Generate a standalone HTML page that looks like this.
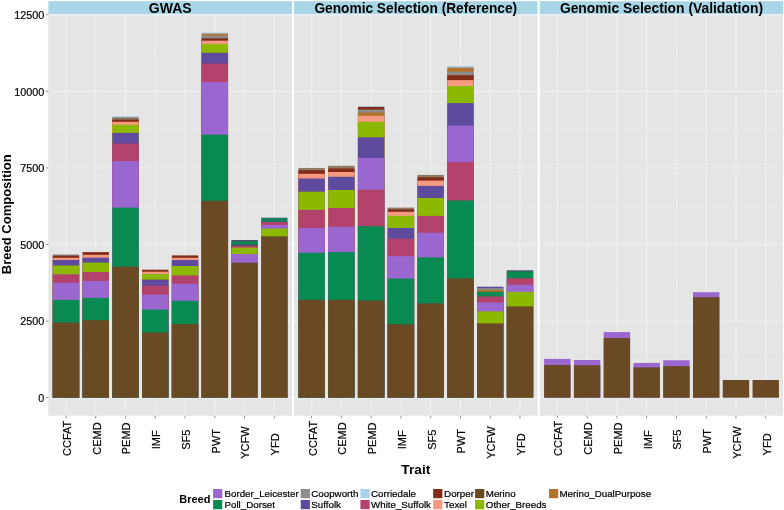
<!DOCTYPE html>
<html><head><meta charset="utf-8"><style>
html,body{margin:0;padding:0;background:#FFFFFF;width:784px;height:510px;overflow:hidden;position:relative}
svg text{font-family:"Liberation Sans",sans-serif}
svg{will-change:transform}
.st{font-size:14px;font-weight:bold;fill:#000}
.ax{font-size:10.8px;fill:#000;stroke:#000;stroke-width:0.2px}
.axx{font-size:11px;fill:#000;stroke:#000;stroke-width:0.2px}
.ti{font-size:13px;font-weight:bold;fill:#000}
.ti2{font-size:13.7px;font-weight:bold;fill:#000}
.lt{font-size:11px;font-weight:bold;fill:#000}
.lg{font-size:9.76px;fill:#000;stroke:#000;stroke-width:0.22px}
</style></head><body>
<svg width="784" height="510" viewBox="0 0 784 510" style="position:absolute;left:0;top:0">
<rect x="48.4" y="15.2" width="243.6" height="400.5" fill="#E5E5E5"/>
<rect x="48.4" y="1.2" width="243.6" height="13.1" fill="#A9D6E6"/>
<text x="170.2" y="12.6" text-anchor="middle" class="st">GWAS</text>
<rect x="48.4" y="358.9" width="243.6" height="1" fill="#E8E8E8"/>
<rect x="48.4" y="282.3" width="243.6" height="1" fill="#E8E8E8"/>
<rect x="48.4" y="205.7" width="243.6" height="1" fill="#E8E8E8"/>
<rect x="48.4" y="129.1" width="243.6" height="1" fill="#E8E8E8"/>
<rect x="48.4" y="52.5" width="243.6" height="1" fill="#E8E8E8"/>
<rect x="48.4" y="397.1" width="243.6" height="1.2" fill="#F0F0F0"/>
<rect x="48.4" y="320.5" width="243.6" height="1.2" fill="#F0F0F0"/>
<rect x="48.4" y="243.9" width="243.6" height="1.2" fill="#F0F0F0"/>
<rect x="48.4" y="167.3" width="243.6" height="1.2" fill="#F0F0F0"/>
<rect x="48.4" y="90.7" width="243.6" height="1.2" fill="#F0F0F0"/>
<rect x="65.37" y="15.2" width="1.2" height="400.5" fill="#F0F0F0"/>
<rect x="95.14" y="15.2" width="1.2" height="400.5" fill="#F0F0F0"/>
<rect x="124.91" y="15.2" width="1.2" height="400.5" fill="#F0F0F0"/>
<rect x="154.68" y="15.2" width="1.2" height="400.5" fill="#F0F0F0"/>
<rect x="184.45" y="15.2" width="1.2" height="400.5" fill="#F0F0F0"/>
<rect x="214.22" y="15.2" width="1.2" height="400.5" fill="#F0F0F0"/>
<rect x="243.99" y="15.2" width="1.2" height="400.5" fill="#F0F0F0"/>
<rect x="273.76" y="15.2" width="1.2" height="400.5" fill="#F0F0F0"/>
<rect x="52.77" y="254.5" width="26.4" height="143.2" fill="#8C8C8C"/>
<rect x="52.77" y="255.6" width="26.4" height="142.1" fill="#822B16"/>
<rect x="52.77" y="257.8" width="26.4" height="139.9" fill="#F49A80"/>
<rect x="52.77" y="260" width="26.4" height="137.7" fill="#5E4B9E"/>
<rect x="52.77" y="265.5" width="26.4" height="132.2" fill="#8DB800"/>
<rect x="52.77" y="274.3" width="26.4" height="123.4" fill="#B2416C"/>
<rect x="52.77" y="282.7" width="26.4" height="115" fill="#9A66CF"/>
<rect x="52.77" y="299.9" width="26.4" height="97.8" fill="#088A52"/>
<rect x="52.77" y="322.5" width="26.4" height="75.2" fill="#6A4A24"/>
<rect x="82.54" y="252.1" width="26.4" height="145.6" fill="#822B16"/>
<rect x="82.54" y="254.8" width="26.4" height="142.9" fill="#F49A80"/>
<rect x="82.54" y="257.7" width="26.4" height="140" fill="#5E4B9E"/>
<rect x="82.54" y="262.6" width="26.4" height="135.1" fill="#8DB800"/>
<rect x="82.54" y="272" width="26.4" height="125.7" fill="#B2416C"/>
<rect x="82.54" y="280.9" width="26.4" height="116.8" fill="#9A66CF"/>
<rect x="82.54" y="297.9" width="26.4" height="99.8" fill="#088A52"/>
<rect x="82.54" y="320.2" width="26.4" height="77.5" fill="#6A4A24"/>
<rect x="112.31" y="116.3" width="26.4" height="281.4" fill="#A9D0EC"/>
<rect x="112.31" y="117.3" width="26.4" height="280.4" fill="#8E7A62"/>
<rect x="112.31" y="119.6" width="26.4" height="278.1" fill="#822B16"/>
<rect x="112.31" y="121.8" width="26.4" height="275.9" fill="#F49A80"/>
<rect x="112.31" y="124.8" width="26.4" height="272.9" fill="#8DB800"/>
<rect x="112.31" y="132.9" width="26.4" height="264.8" fill="#5E4B9E"/>
<rect x="112.31" y="143.5" width="26.4" height="254.2" fill="#B2416C"/>
<rect x="112.31" y="161.1" width="26.4" height="236.6" fill="#9A66CF"/>
<rect x="112.31" y="207.6" width="26.4" height="190.1" fill="#088A52"/>
<rect x="112.31" y="266.7" width="26.4" height="131" fill="#6A4A24"/>
<rect x="142.08" y="269.7" width="26.4" height="128" fill="#822B16"/>
<rect x="142.08" y="271.7" width="26.4" height="126" fill="#F49A80"/>
<rect x="142.08" y="274" width="26.4" height="123.7" fill="#8DB800"/>
<rect x="142.08" y="279.6" width="26.4" height="118.1" fill="#5E4B9E"/>
<rect x="142.08" y="285.8" width="26.4" height="111.9" fill="#B2416C"/>
<rect x="142.08" y="294.6" width="26.4" height="103.1" fill="#9A66CF"/>
<rect x="142.08" y="309.6" width="26.4" height="88.1" fill="#088A52"/>
<rect x="142.08" y="332.5" width="26.4" height="65.2" fill="#6A4A24"/>
<rect x="171.85" y="255.4" width="26.4" height="142.3" fill="#822B16"/>
<rect x="171.85" y="257.8" width="26.4" height="139.9" fill="#F49A80"/>
<rect x="171.85" y="260" width="26.4" height="137.7" fill="#5E4B9E"/>
<rect x="171.85" y="266" width="26.4" height="131.7" fill="#8DB800"/>
<rect x="171.85" y="275.4" width="26.4" height="122.3" fill="#B2416C"/>
<rect x="171.85" y="283.8" width="26.4" height="113.9" fill="#9A66CF"/>
<rect x="171.85" y="300.8" width="26.4" height="96.9" fill="#088A52"/>
<rect x="171.85" y="324.1" width="26.4" height="73.6" fill="#6A4A24"/>
<rect x="201.62" y="32.6" width="26.4" height="365.1" fill="#A9D0EC"/>
<rect x="201.62" y="33.6" width="26.4" height="364.1" fill="#B2732F"/>
<rect x="201.62" y="35.6" width="26.4" height="362.1" fill="#8C8C8C"/>
<rect x="201.62" y="38.3" width="26.4" height="359.4" fill="#822B16"/>
<rect x="201.62" y="40.7" width="26.4" height="357" fill="#F49A80"/>
<rect x="201.62" y="44.2" width="26.4" height="353.5" fill="#8DB800"/>
<rect x="201.62" y="52.8" width="26.4" height="344.9" fill="#5E4B9E"/>
<rect x="201.62" y="63.5" width="26.4" height="334.2" fill="#B2416C"/>
<rect x="201.62" y="82" width="26.4" height="315.7" fill="#9A66CF"/>
<rect x="201.62" y="134.7" width="26.4" height="263" fill="#088A52"/>
<rect x="201.62" y="200.8" width="26.4" height="196.9" fill="#6A4A24"/>
<rect x="231.39" y="240" width="26.4" height="157.7" fill="#4E5068"/>
<rect x="231.39" y="241.5" width="26.4" height="156.2" fill="#088A52"/>
<rect x="231.39" y="244.4" width="26.4" height="153.3" fill="#4E5068"/>
<rect x="231.39" y="245.9" width="26.4" height="151.8" fill="#B2416C"/>
<rect x="231.39" y="247.6" width="26.4" height="150.1" fill="#8DB800"/>
<rect x="231.39" y="254.1" width="26.4" height="143.6" fill="#9A66CF"/>
<rect x="231.39" y="262.7" width="26.4" height="135" fill="#6A4A24"/>
<rect x="261.16" y="217.7" width="26.4" height="180" fill="#1B7A62"/>
<rect x="261.16" y="222" width="26.4" height="175.7" fill="#B2416C"/>
<rect x="261.16" y="224.9" width="26.4" height="172.8" fill="#9A66CF"/>
<rect x="261.16" y="228.6" width="26.4" height="169.1" fill="#8DB800"/>
<rect x="261.16" y="236.3" width="26.4" height="161.4" fill="#6A4A24"/>
<rect x="65.52" y="415.7" width="0.9" height="2.6" fill="#888888"/>
<text transform="translate(70.87,438.3) rotate(-90)" text-anchor="middle" class="axx">CCFAT</text>
<rect x="95.29" y="415.7" width="0.9" height="2.6" fill="#888888"/>
<text transform="translate(100.64,438.5) rotate(-90)" text-anchor="middle" class="axx">CEMD</text>
<rect x="125.06" y="415.7" width="0.9" height="2.6" fill="#888888"/>
<text transform="translate(130.41,438.35) rotate(-90)" text-anchor="middle" class="axx">PEMD</text>
<rect x="154.83" y="415.7" width="0.9" height="2.6" fill="#888888"/>
<text transform="translate(160.18,439.85) rotate(-90)" text-anchor="middle" class="axx">IMF</text>
<rect x="184.6" y="415.7" width="0.9" height="2.6" fill="#888888"/>
<text transform="translate(189.95,439.75) rotate(-90)" text-anchor="middle" class="axx">SF5</text>
<rect x="214.37" y="415.7" width="0.9" height="2.6" fill="#888888"/>
<text transform="translate(219.72,441.2) rotate(-90)" text-anchor="middle" class="axx">PWT</text>
<rect x="244.14" y="415.7" width="0.9" height="2.6" fill="#888888"/>
<text transform="translate(249.49,442.65) rotate(-90)" text-anchor="middle" class="axx">YCFW</text>
<rect x="273.91" y="415.7" width="0.9" height="2.6" fill="#888888"/>
<text transform="translate(279.26,444.4) rotate(-90)" text-anchor="middle" class="axx">YFD</text>
<rect x="294" y="15.2" width="243.5" height="400.5" fill="#E5E5E5"/>
<rect x="294" y="1.2" width="243.5" height="13.1" fill="#A9D6E6"/>
<text x="415.75" y="12.6" text-anchor="middle" class="st" textLength="202.7" lengthAdjust="spacingAndGlyphs">Genomic Selection (Reference)</text>
<rect x="294" y="358.9" width="243.5" height="1" fill="#E8E8E8"/>
<rect x="294" y="282.3" width="243.5" height="1" fill="#E8E8E8"/>
<rect x="294" y="205.7" width="243.5" height="1" fill="#E8E8E8"/>
<rect x="294" y="129.1" width="243.5" height="1" fill="#E8E8E8"/>
<rect x="294" y="52.5" width="243.5" height="1" fill="#E8E8E8"/>
<rect x="294" y="397.1" width="243.5" height="1.2" fill="#F0F0F0"/>
<rect x="294" y="320.5" width="243.5" height="1.2" fill="#F0F0F0"/>
<rect x="294" y="243.9" width="243.5" height="1.2" fill="#F0F0F0"/>
<rect x="294" y="167.3" width="243.5" height="1.2" fill="#F0F0F0"/>
<rect x="294" y="90.7" width="243.5" height="1.2" fill="#F0F0F0"/>
<rect x="311" y="15.2" width="1.2" height="400.5" fill="#F0F0F0"/>
<rect x="340.77" y="15.2" width="1.2" height="400.5" fill="#F0F0F0"/>
<rect x="370.54" y="15.2" width="1.2" height="400.5" fill="#F0F0F0"/>
<rect x="400.31" y="15.2" width="1.2" height="400.5" fill="#F0F0F0"/>
<rect x="430.08" y="15.2" width="1.2" height="400.5" fill="#F0F0F0"/>
<rect x="459.85" y="15.2" width="1.2" height="400.5" fill="#F0F0F0"/>
<rect x="489.62" y="15.2" width="1.2" height="400.5" fill="#F0F0F0"/>
<rect x="519.39" y="15.2" width="1.2" height="400.5" fill="#F0F0F0"/>
<rect x="298.4" y="167.9" width="26.4" height="229.8" fill="#8E7A62"/>
<rect x="298.4" y="170.2" width="26.4" height="227.5" fill="#822B16"/>
<rect x="298.4" y="173.8" width="26.4" height="223.9" fill="#F49A80"/>
<rect x="298.4" y="178.5" width="26.4" height="219.2" fill="#5E4B9E"/>
<rect x="298.4" y="191.7" width="26.4" height="206" fill="#8DB800"/>
<rect x="298.4" y="209.9" width="26.4" height="187.8" fill="#B2416C"/>
<rect x="298.4" y="227.9" width="26.4" height="169.8" fill="#9A66CF"/>
<rect x="298.4" y="252.8" width="26.4" height="144.9" fill="#088A52"/>
<rect x="298.4" y="299.8" width="26.4" height="97.9" fill="#6A4A24"/>
<rect x="328.17" y="165.8" width="26.4" height="231.9" fill="#8E7A62"/>
<rect x="328.17" y="168.5" width="26.4" height="229.2" fill="#822B16"/>
<rect x="328.17" y="172" width="26.4" height="225.7" fill="#F49A80"/>
<rect x="328.17" y="176.8" width="26.4" height="220.9" fill="#5E4B9E"/>
<rect x="328.17" y="190" width="26.4" height="207.7" fill="#8DB800"/>
<rect x="328.17" y="208" width="26.4" height="189.7" fill="#B2416C"/>
<rect x="328.17" y="226.7" width="26.4" height="171" fill="#9A66CF"/>
<rect x="328.17" y="252.1" width="26.4" height="145.6" fill="#088A52"/>
<rect x="328.17" y="299.8" width="26.4" height="97.9" fill="#6A4A24"/>
<rect x="357.94" y="105.9" width="26.4" height="291.8" fill="#A9D0EC"/>
<rect x="357.94" y="106.9" width="26.4" height="290.8" fill="#822B16"/>
<rect x="357.94" y="109.6" width="26.4" height="288.1" fill="#8C8C8C"/>
<rect x="357.94" y="112.4" width="26.4" height="285.3" fill="#B2732F"/>
<rect x="357.94" y="115.8" width="26.4" height="281.9" fill="#F49A80"/>
<rect x="357.94" y="121.8" width="26.4" height="275.9" fill="#8DB800"/>
<rect x="357.94" y="137.3" width="26.4" height="260.4" fill="#5E4B9E"/>
<rect x="357.94" y="157.8" width="26.4" height="239.9" fill="#9A66CF"/>
<rect x="357.94" y="189.6" width="26.4" height="208.1" fill="#B2416C"/>
<rect x="357.94" y="226.2" width="26.4" height="171.5" fill="#088A52"/>
<rect x="357.94" y="300.5" width="26.4" height="97.2" fill="#6A4A24"/>
<rect x="387.71" y="207.6" width="26.4" height="190.1" fill="#8E7A62"/>
<rect x="387.71" y="209.4" width="26.4" height="188.3" fill="#822B16"/>
<rect x="387.71" y="211.8" width="26.4" height="185.9" fill="#F49A80"/>
<rect x="387.71" y="215.9" width="26.4" height="181.8" fill="#8DB800"/>
<rect x="387.71" y="228" width="26.4" height="169.7" fill="#5E4B9E"/>
<rect x="387.71" y="238.8" width="26.4" height="158.9" fill="#B2416C"/>
<rect x="387.71" y="256.2" width="26.4" height="141.5" fill="#9A66CF"/>
<rect x="387.71" y="278.6" width="26.4" height="119.1" fill="#088A52"/>
<rect x="387.71" y="324.2" width="26.4" height="73.5" fill="#6A4A24"/>
<rect x="417.48" y="174.9" width="26.4" height="222.8" fill="#8E7A62"/>
<rect x="417.48" y="177.3" width="26.4" height="220.4" fill="#822B16"/>
<rect x="417.48" y="180.6" width="26.4" height="217.1" fill="#F49A80"/>
<rect x="417.48" y="185.9" width="26.4" height="211.8" fill="#5E4B9E"/>
<rect x="417.48" y="198" width="26.4" height="199.7" fill="#8DB800"/>
<rect x="417.48" y="215.9" width="26.4" height="181.8" fill="#B2416C"/>
<rect x="417.48" y="232.8" width="26.4" height="164.9" fill="#9A66CF"/>
<rect x="417.48" y="257.4" width="26.4" height="140.3" fill="#088A52"/>
<rect x="417.48" y="303.4" width="26.4" height="94.3" fill="#6A4A24"/>
<rect x="447.25" y="66.1" width="26.4" height="331.6" fill="#A9D0EC"/>
<rect x="447.25" y="67.6" width="26.4" height="330.1" fill="#B2732F"/>
<rect x="447.25" y="71.8" width="26.4" height="325.9" fill="#8C8C8C"/>
<rect x="447.25" y="75.2" width="26.4" height="322.5" fill="#822B16"/>
<rect x="447.25" y="80.1" width="26.4" height="317.6" fill="#F49A80"/>
<rect x="447.25" y="86" width="26.4" height="311.7" fill="#8DB800"/>
<rect x="447.25" y="103.1" width="26.4" height="294.6" fill="#5E4B9E"/>
<rect x="447.25" y="125.6" width="26.4" height="272.1" fill="#9A66CF"/>
<rect x="447.25" y="162.1" width="26.4" height="235.6" fill="#B2416C"/>
<rect x="447.25" y="200.5" width="26.4" height="197.2" fill="#088A52"/>
<rect x="447.25" y="278.4" width="26.4" height="119.3" fill="#6A4A24"/>
<rect x="477.02" y="286.7" width="26.4" height="111" fill="#5E4B9E"/>
<rect x="477.02" y="288.1" width="26.4" height="109.6" fill="#8C8C8C"/>
<rect x="477.02" y="289.9" width="26.4" height="107.8" fill="#B2732F"/>
<rect x="477.02" y="291.8" width="26.4" height="105.9" fill="#088A52"/>
<rect x="477.02" y="296.4" width="26.4" height="101.3" fill="#B2416C"/>
<rect x="477.02" y="302.5" width="26.4" height="95.2" fill="#9A66CF"/>
<rect x="477.02" y="311.4" width="26.4" height="86.3" fill="#8DB800"/>
<rect x="477.02" y="323.4" width="26.4" height="74.3" fill="#6A4A24"/>
<rect x="506.79" y="270.3" width="26.4" height="127.4" fill="#4E5068"/>
<rect x="506.79" y="271.5" width="26.4" height="126.2" fill="#088A52"/>
<rect x="506.79" y="278.2" width="26.4" height="119.5" fill="#B2416C"/>
<rect x="506.79" y="284.7" width="26.4" height="113" fill="#9A66CF"/>
<rect x="506.79" y="291.8" width="26.4" height="105.9" fill="#8DB800"/>
<rect x="506.79" y="306.4" width="26.4" height="91.3" fill="#6A4A24"/>
<rect x="311.15" y="415.7" width="0.9" height="2.6" fill="#888888"/>
<text transform="translate(316.5,438.3) rotate(-90)" text-anchor="middle" class="axx">CCFAT</text>
<rect x="340.92" y="415.7" width="0.9" height="2.6" fill="#888888"/>
<text transform="translate(346.27,438.5) rotate(-90)" text-anchor="middle" class="axx">CEMD</text>
<rect x="370.69" y="415.7" width="0.9" height="2.6" fill="#888888"/>
<text transform="translate(376.04,438.35) rotate(-90)" text-anchor="middle" class="axx">PEMD</text>
<rect x="400.46" y="415.7" width="0.9" height="2.6" fill="#888888"/>
<text transform="translate(405.81,439.85) rotate(-90)" text-anchor="middle" class="axx">IMF</text>
<rect x="430.23" y="415.7" width="0.9" height="2.6" fill="#888888"/>
<text transform="translate(435.58,439.75) rotate(-90)" text-anchor="middle" class="axx">SF5</text>
<rect x="460" y="415.7" width="0.9" height="2.6" fill="#888888"/>
<text transform="translate(465.35,441.2) rotate(-90)" text-anchor="middle" class="axx">PWT</text>
<rect x="489.77" y="415.7" width="0.9" height="2.6" fill="#888888"/>
<text transform="translate(495.12,442.65) rotate(-90)" text-anchor="middle" class="axx">YCFW</text>
<rect x="519.54" y="415.7" width="0.9" height="2.6" fill="#888888"/>
<text transform="translate(524.89,444.4) rotate(-90)" text-anchor="middle" class="axx">YFD</text>
<rect x="539.8" y="15.2" width="243.3" height="400.5" fill="#E5E5E5"/>
<rect x="539.8" y="1.2" width="243.3" height="13.1" fill="#A9D6E6"/>
<text x="661.45" y="12.6" text-anchor="middle" class="st" textLength="203.1" lengthAdjust="spacingAndGlyphs">Genomic Selection (Validation)</text>
<rect x="539.8" y="358.9" width="243.3" height="1" fill="#E8E8E8"/>
<rect x="539.8" y="282.3" width="243.3" height="1" fill="#E8E8E8"/>
<rect x="539.8" y="205.7" width="243.3" height="1" fill="#E8E8E8"/>
<rect x="539.8" y="129.1" width="243.3" height="1" fill="#E8E8E8"/>
<rect x="539.8" y="52.5" width="243.3" height="1" fill="#E8E8E8"/>
<rect x="539.8" y="397.1" width="243.3" height="1.2" fill="#F0F0F0"/>
<rect x="539.8" y="320.5" width="243.3" height="1.2" fill="#F0F0F0"/>
<rect x="539.8" y="243.9" width="243.3" height="1.2" fill="#F0F0F0"/>
<rect x="539.8" y="167.3" width="243.3" height="1.2" fill="#F0F0F0"/>
<rect x="539.8" y="90.7" width="243.3" height="1.2" fill="#F0F0F0"/>
<rect x="556.75" y="15.2" width="1.2" height="400.5" fill="#F0F0F0"/>
<rect x="586.52" y="15.2" width="1.2" height="400.5" fill="#F0F0F0"/>
<rect x="616.29" y="15.2" width="1.2" height="400.5" fill="#F0F0F0"/>
<rect x="646.06" y="15.2" width="1.2" height="400.5" fill="#F0F0F0"/>
<rect x="675.83" y="15.2" width="1.2" height="400.5" fill="#F0F0F0"/>
<rect x="705.6" y="15.2" width="1.2" height="400.5" fill="#F0F0F0"/>
<rect x="735.37" y="15.2" width="1.2" height="400.5" fill="#F0F0F0"/>
<rect x="765.14" y="15.2" width="1.2" height="400.5" fill="#F0F0F0"/>
<rect x="544.15" y="358.9" width="26.4" height="38.8" fill="#9A66CF"/>
<rect x="544.15" y="365" width="26.4" height="32.7" fill="#6A4A24"/>
<rect x="573.92" y="360" width="26.4" height="37.7" fill="#9A66CF"/>
<rect x="573.92" y="365.2" width="26.4" height="32.5" fill="#6A4A24"/>
<rect x="603.69" y="332.1" width="26.4" height="65.6" fill="#9A66CF"/>
<rect x="603.69" y="338" width="26.4" height="59.7" fill="#6A4A24"/>
<rect x="633.46" y="362.9" width="26.4" height="34.8" fill="#9A66CF"/>
<rect x="633.46" y="367.4" width="26.4" height="30.3" fill="#6A4A24"/>
<rect x="663.23" y="360.3" width="26.4" height="37.4" fill="#9A66CF"/>
<rect x="663.23" y="366.1" width="26.4" height="31.6" fill="#6A4A24"/>
<rect x="693" y="292.2" width="26.4" height="105.5" fill="#9A66CF"/>
<rect x="693" y="297.2" width="26.4" height="100.5" fill="#6A4A24"/>
<rect x="722.77" y="380" width="26.4" height="17.7" fill="#6A4A24"/>
<rect x="752.54" y="380" width="26.4" height="17.7" fill="#6A4A24"/>
<rect x="556.9" y="415.7" width="0.9" height="2.6" fill="#888888"/>
<text transform="translate(562.25,438.3) rotate(-90)" text-anchor="middle" class="axx">CCFAT</text>
<rect x="586.67" y="415.7" width="0.9" height="2.6" fill="#888888"/>
<text transform="translate(592.02,438.5) rotate(-90)" text-anchor="middle" class="axx">CEMD</text>
<rect x="616.44" y="415.7" width="0.9" height="2.6" fill="#888888"/>
<text transform="translate(621.79,438.35) rotate(-90)" text-anchor="middle" class="axx">PEMD</text>
<rect x="646.21" y="415.7" width="0.9" height="2.6" fill="#888888"/>
<text transform="translate(651.56,439.85) rotate(-90)" text-anchor="middle" class="axx">IMF</text>
<rect x="675.98" y="415.7" width="0.9" height="2.6" fill="#888888"/>
<text transform="translate(681.33,439.75) rotate(-90)" text-anchor="middle" class="axx">SF5</text>
<rect x="705.75" y="415.7" width="0.9" height="2.6" fill="#888888"/>
<text transform="translate(711.1,441.2) rotate(-90)" text-anchor="middle" class="axx">PWT</text>
<rect x="735.52" y="415.7" width="0.9" height="2.6" fill="#888888"/>
<text transform="translate(740.87,442.65) rotate(-90)" text-anchor="middle" class="axx">YCFW</text>
<rect x="765.29" y="415.7" width="0.9" height="2.6" fill="#888888"/>
<text transform="translate(770.64,444.4) rotate(-90)" text-anchor="middle" class="axx">YFD</text>
<rect x="45.9" y="397.25" width="2.6" height="0.9" fill="#888888"/>
<text x="44.2" y="401.95" text-anchor="end" class="ax">0</text>
<rect x="45.9" y="320.65" width="2.6" height="0.9" fill="#888888"/>
<text x="44.2" y="325.35" text-anchor="end" class="ax">2500</text>
<rect x="45.9" y="244.05" width="2.6" height="0.9" fill="#888888"/>
<text x="44.2" y="248.75" text-anchor="end" class="ax">5000</text>
<rect x="45.9" y="167.45" width="2.6" height="0.9" fill="#888888"/>
<text x="44.2" y="172.15" text-anchor="end" class="ax">7500</text>
<rect x="45.9" y="90.85" width="2.6" height="0.9" fill="#888888"/>
<text x="44.2" y="95.55" text-anchor="end" class="ax">10000</text>
<rect x="45.9" y="14.25" width="2.6" height="0.9" fill="#888888"/>
<text x="44.2" y="18.95" text-anchor="end" class="ax">12500</text>
<text x="415.8" y="473.8" text-anchor="middle" class="ti2">Trait</text>
<text transform="translate(10.6,214.2) rotate(-90)" text-anchor="middle" class="ti">Breed Composition</text>
<text x="179.2" y="502.7" class="lt">Breed</text>
<rect x="213.1" y="489" width="9.2" height="9.2" fill="#9A66CF"/>
<text x="224.5" y="497.4" class="lg">Border_Leicester</text>
<rect x="213.1" y="500" width="9.2" height="9.2" fill="#088A52"/>
<text x="224.5" y="507.6" class="lg">Poll_Dorset</text>
<rect x="300.7" y="489" width="9.2" height="9.2" fill="#8C8C8C"/>
<text x="311.3" y="497.4" class="lg">Coopworth</text>
<rect x="300.7" y="500" width="9.2" height="9.2" fill="#5E4B9E"/>
<text x="311.3" y="507.6" class="lg">Suffolk</text>
<rect x="360.4" y="489" width="9.2" height="9.2" fill="#A9D0EC"/>
<text x="371" y="497.4" class="lg">Corriedale</text>
<rect x="360.4" y="500" width="9.2" height="9.2" fill="#B2416C"/>
<text x="371" y="507.6" class="lg">White_Suffolk</text>
<rect x="433.2" y="489" width="9.2" height="9.2" fill="#822B16"/>
<text x="444.1" y="497.4" class="lg">Dorper</text>
<rect x="433.2" y="500" width="9.2" height="9.2" fill="#F49A80"/>
<text x="444.1" y="507.6" class="lg">Texel</text>
<rect x="475.1" y="489" width="9.2" height="9.2" fill="#6A4A24"/>
<text x="485.8" y="497.4" class="lg">Merino</text>
<rect x="475.1" y="500" width="9.2" height="9.2" fill="#8DB800"/>
<text x="485.8" y="507.6" class="lg">Other_Breeds</text>
<rect x="549" y="489" width="9.2" height="9.2" fill="#B2732F"/>
<text x="559.5" y="497.4" class="lg">Merino_DualPurpose</text>
</svg>
</body></html>
